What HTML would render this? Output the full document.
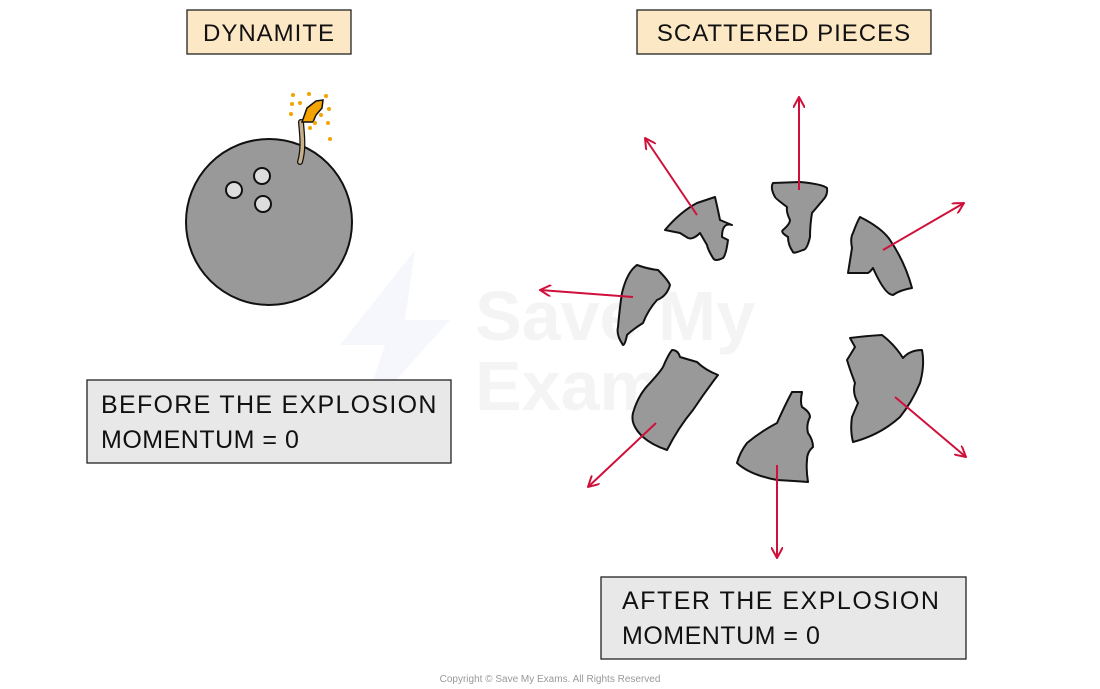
<!DOCTYPE html>
<html><head><style>
body{margin:0;width:1100px;height:689px;background:#fff;overflow:hidden}
svg{display:block}
text{font-family:"Liberation Sans",sans-serif}
</style></head><body>
<svg width="1100" height="689" viewBox="0 0 1100 689">
<defs><marker id="ah" markerWidth="12" markerHeight="12" refX="11" refY="6" orient="auto" markerUnits="userSpaceOnUse"><path d="M0,0 L11,6 L0,12" fill="none" stroke="#d0103a" stroke-width="2"/></marker></defs>
<!-- watermark -->
<text x="475" y="340" font-size="70" font-weight="bold" fill="#f4f4f4">Save My</text>
<text x="475" y="410" font-size="70" font-weight="bold" fill="#f4f4f4">Exams</text>
<path d="M415,250 L340,345 L385,345 L360,420 L450,320 L405,320 Z" fill="#f5f7fc"/>
<!-- labels -->
<rect x="187" y="10" width="164" height="44" fill="#fde8c6" stroke="#222" stroke-width="1.3"/>
<text x="269" y="41" font-size="24" text-anchor="middle" letter-spacing="1" fill="#111">DYNAMITE</text>
<rect x="637" y="10" width="294" height="44" fill="#fde8c6" stroke="#222" stroke-width="1.3"/>
<text x="784" y="41" font-size="24" text-anchor="middle" letter-spacing="1" fill="#111">SCATTERED PIECES</text>
<rect x="87" y="380" width="364" height="83" fill="#e8e8e8" stroke="#222" stroke-width="1.3"/>
<text x="101" y="413" font-size="25" letter-spacing="1.3" fill="#111">BEFORE THE EXPLOSION</text>
<text x="101" y="448" font-size="25" letter-spacing="0.5" fill="#111">MOMENTUM = 0</text>
<rect x="601" y="577" width="365" height="82" fill="#e8e8e8" stroke="#222" stroke-width="1.3"/>
<text x="622" y="609" font-size="25" letter-spacing="1.5" fill="#111">AFTER THE EXPLOSION</text>
<text x="622" y="644" font-size="25" letter-spacing="0.5" fill="#111">MOMENTUM = 0</text>
<!-- bomb -->
<circle cx="269" cy="222" r="83" fill="#999" stroke="#111" stroke-width="2"/>
<circle cx="234" cy="190" r="8" fill="#ddd" stroke="#111" stroke-width="2"/>
<circle cx="262" cy="176" r="8" fill="#ddd" stroke="#111" stroke-width="2"/>
<circle cx="263" cy="204" r="8" fill="#ddd" stroke="#111" stroke-width="2"/>
<path d="M300,162 C304,148 302,135 301,122" stroke="#111" stroke-width="6" fill="none" stroke-linecap="round"/>
<path d="M300,162 C304,148 302,135 301,122" stroke="#c8b08a" stroke-width="3.5" fill="none" stroke-linecap="round"/>
<path d="M302,122 L307,108 L316,101 L323,100 L322,108 L316,115 L313,122 Z" fill="#f4a300" stroke="#111" stroke-width="1.5"/>
<g fill="#f4a300"><circle cx="293" cy="95" r="2"/><circle cx="309" cy="94" r="2"/><circle cx="326" cy="96" r="2"/><circle cx="292" cy="104" r="2"/><circle cx="300" cy="103" r="2"/><circle cx="329" cy="109" r="2"/><circle cx="291" cy="114" r="2"/><circle cx="321" cy="115" r="2"/><circle cx="315" cy="123" r="2"/><circle cx="328" cy="123" r="2"/><circle cx="310" cy="128" r="2"/><circle cx="330" cy="139" r="2"/></g>
<!-- pieces -->
<g fill="#999" stroke="#111" stroke-width="2" stroke-linejoin="round">
<path d="M665,230 Q680,212 697,203 L715,197 Q718,210 720,220 L732,225 Q722,222 722,237 L728,240 Q726,255 723,258 Q715,262 713,258 Q708,250 707,245 L700,233 Q693,240 688,238 L680,233 Z"/>
<path d="M773,183 L800,182 Q822,184 827,188 Q828,195 823,200 L812,213 Q810,225 810,237 Q807,250 803,250 Q793,254 793,252 Q788,245 788,237 Q780,232 783,230 Q790,224 790,220 Q786,212 787,207 Q775,198 775,197 Q770,188 773,183 Z"/>
<path d="M860,217 Q882,228 890,240 Q905,262 912,288 Q900,290 893,295 Q885,295 873,268 Q870,272 868,273 L848,273 L852,248 Q850,238 853,233 Q857,222 860,217 Z"/>
<path d="M637,265 Q648,269 658,270 Q668,280 670,285 Q667,296 657,300 Q648,310 643,323 Q632,330 627,335 Q625,345 623,345 Q616,335 618,327 Q620,305 622,293 Q627,272 637,265 Z"/>
<path d="M672,350 Q678,350 680,357 Q690,360 697,362 Q705,370 718,375 Q705,392 693,410 Q678,428 667,450 Q652,445 643,437 Q630,425 633,413 Q638,395 650,383 Q660,372 663,367 Q668,355 672,350 Z"/>
<path d="M792,392 L802,392 Q800,402 802,407 Q810,412 810,417 Q806,425 808,433 Q813,440 813,447 Q807,452 807,460 Q806,470 808,482 Q795,481 777,480 Q750,475 737,463 Q740,452 747,443 Q760,432 777,423 Q785,405 792,392 Z"/>
<path d="M850,338 Q865,336 882,335 Q895,345 903,358 Q910,350 922,350 Q925,365 920,383 Q912,402 900,417 Q880,435 853,442 Q850,430 852,417 L858,403 Q852,393 855,383 Q850,370 847,360 Q852,352 855,347 Z"/>
</g>
<!-- arrows -->
<g stroke="#d0103a" stroke-width="2" fill="none" marker-end="url(#ah)">
<line x1="697" y1="215" x2="645" y2="138"/>
<line x1="799" y1="190" x2="799" y2="97"/>
<line x1="883" y1="250" x2="964" y2="203"/>
<line x1="633" y1="297" x2="540" y2="290"/>
<line x1="656" y1="423" x2="588" y2="487"/>
<line x1="777" y1="465" x2="777" y2="558"/>
<line x1="895" y1="397" x2="966" y2="457"/>
</g>
<text x="550" y="682" font-size="10" text-anchor="middle" fill="#999">Copyright © Save My Exams. All Rights Reserved</text>
</svg>
</body></html>
